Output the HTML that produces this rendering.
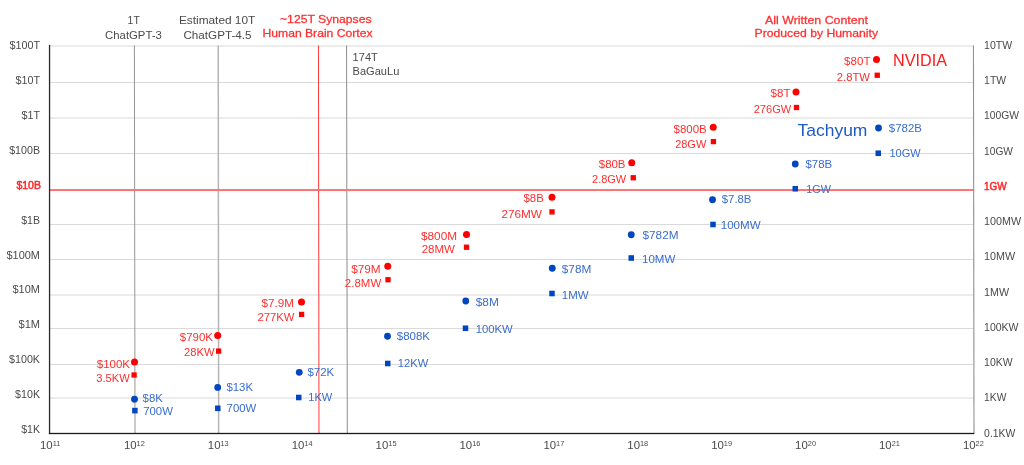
<!DOCTYPE html><html><head><meta charset="utf-8"><title>Chart</title><style>html,body{margin:0;padding:0;background:#fff}svg{display:block}text{font-family:"Liberation Sans",Arial,sans-serif}</style></head><body>
<svg width="1024" height="465" viewBox="0 0 1024 465">
<rect width="1024" height="465" fill="#fff"/>
<rect x="49.5" y="45.50" width="924.3" height="1" fill="#dadada"/>
<rect x="49.5" y="82.00" width="924.3" height="1" fill="#dadada"/>
<rect x="49.5" y="117.50" width="924.3" height="1" fill="#dadada"/>
<rect x="49.5" y="153.00" width="924.3" height="1" fill="#dadada"/>
<rect x="49.5" y="224.00" width="924.3" height="1" fill="#dadada"/>
<rect x="49.5" y="259.00" width="924.3" height="1" fill="#dadada"/>
<rect x="49.5" y="294.50" width="924.3" height="1" fill="#dadada"/>
<rect x="49.5" y="328.00" width="924.3" height="1" fill="#dadada"/>
<rect x="49.5" y="364.00" width="924.3" height="1" fill="#dadada"/>
<rect x="49.5" y="397.50" width="924.3" height="1" fill="#dadada"/>
<polygon points="133.90,45.6 134.90,45.6 135.50,433.2 134.50,433.2" fill="#969696"/>
<polygon points="217.48,45.6 218.98,45.6 219.39,433.2 217.89,433.2" fill="#b4b4b4"/>
<polygon points="346.08,45.6 347.08,45.6 347.79,433.2 346.79,433.2" fill="#8c8c8c"/>
<polygon points="317.96,45.6 318.96,45.6 319.47,433.2 318.47,433.2" fill="#ff3a3a"/>
<rect x="49.5" y="189.0" width="924.3" height="2" fill="#ff7474"/>
<polygon points="972.91,45.6 974.01,45.6 974.55,433.2 973.45,433.2" fill="#909090"/>
<rect x="48.9" y="44.9" width="1.3" height="389.2" fill="#2a2a2a"/>
<rect x="48.9" y="432.85" width="925.4" height="1.3" fill="#1a1a1a"/>
<text x="40.00" y="49.35" font-size="10.7" fill="#4a4a4a" text-anchor="end" textLength="30.6" lengthAdjust="spacingAndGlyphs">$100T</text>
<text x="40.00" y="84.22" font-size="10.7" fill="#4a4a4a" text-anchor="end" textLength="24.5" lengthAdjust="spacingAndGlyphs">$10T</text>
<text x="40.00" y="119.09" font-size="10.7" fill="#4a4a4a" text-anchor="end" textLength="18.5" lengthAdjust="spacingAndGlyphs">$1T</text>
<text x="40.00" y="153.96" font-size="10.7" fill="#4a4a4a" text-anchor="end" textLength="30.8" lengthAdjust="spacingAndGlyphs">$100B</text>
<text x="41.00" y="188.53" font-size="10.7" fill="#ff2626" text-anchor="end" textLength="24.6" lengthAdjust="spacingAndGlyphs" stroke="#ff2626" stroke-width="0.5">$10B</text>
<text x="40.00" y="223.70" font-size="10.7" fill="#4a4a4a" text-anchor="end" textLength="18.8" lengthAdjust="spacingAndGlyphs">$1B</text>
<text x="40.00" y="258.57" font-size="10.7" fill="#4a4a4a" text-anchor="end" textLength="33.5" lengthAdjust="spacingAndGlyphs">$100M</text>
<text x="40.00" y="293.44" font-size="10.7" fill="#4a4a4a" text-anchor="end" textLength="27.5" lengthAdjust="spacingAndGlyphs">$10M</text>
<text x="40.00" y="328.31" font-size="10.7" fill="#4a4a4a" text-anchor="end" textLength="21.5" lengthAdjust="spacingAndGlyphs">$1M</text>
<text x="40.00" y="363.18" font-size="10.7" fill="#4a4a4a" text-anchor="end" textLength="30.9" lengthAdjust="spacingAndGlyphs">$100K</text>
<text x="40.00" y="398.05" font-size="10.7" fill="#4a4a4a" text-anchor="end" textLength="24.9" lengthAdjust="spacingAndGlyphs">$10K</text>
<text x="40.00" y="432.92" font-size="10.7" fill="#4a4a4a" text-anchor="end" textLength="18.8" lengthAdjust="spacingAndGlyphs">$1K</text>
<text x="984.10" y="48.95" font-size="10.7" fill="#4a4a4a" text-anchor="start" textLength="28.0" lengthAdjust="spacingAndGlyphs">10TW</text>
<text x="984.10" y="84.20" font-size="10.7" fill="#4a4a4a" text-anchor="start" textLength="22.0" lengthAdjust="spacingAndGlyphs">1TW</text>
<text x="984.10" y="119.45" font-size="10.7" fill="#4a4a4a" text-anchor="start" textLength="35.0" lengthAdjust="spacingAndGlyphs">100GW</text>
<text x="984.10" y="154.70" font-size="10.7" fill="#4a4a4a" text-anchor="start" textLength="28.9" lengthAdjust="spacingAndGlyphs">10GW</text>
<text x="984.00" y="189.65" font-size="10.7" fill="#ff2626" text-anchor="start" textLength="22.8" lengthAdjust="spacingAndGlyphs" stroke="#ff2626" stroke-width="0.5">1GW</text>
<text x="984.10" y="225.20" font-size="10.7" fill="#4a4a4a" text-anchor="start" textLength="37.0" lengthAdjust="spacingAndGlyphs">100MW</text>
<text x="984.10" y="260.45" font-size="10.7" fill="#4a4a4a" text-anchor="start" textLength="31.0" lengthAdjust="spacingAndGlyphs">10MW</text>
<text x="984.10" y="295.70" font-size="10.7" fill="#4a4a4a" text-anchor="start" textLength="25.0" lengthAdjust="spacingAndGlyphs">1MW</text>
<text x="984.10" y="330.95" font-size="10.7" fill="#4a4a4a" text-anchor="start" textLength="34.4" lengthAdjust="spacingAndGlyphs">100KW</text>
<text x="984.10" y="366.20" font-size="10.7" fill="#4a4a4a" text-anchor="start" textLength="28.4" lengthAdjust="spacingAndGlyphs">10KW</text>
<text x="984.10" y="401.45" font-size="10.7" fill="#4a4a4a" text-anchor="start" textLength="22.3" lengthAdjust="spacingAndGlyphs">1KW</text>
<text x="984.10" y="436.70" font-size="10.7" fill="#4a4a4a" text-anchor="start" textLength="31.2" lengthAdjust="spacingAndGlyphs">0.1KW</text>
<text x="40.00" y="449.3" font-size="11.4" fill="#4a4a4a">10<tspan font-size="7.4" dy="-3.8">11</tspan></text>
<text x="123.90" y="449.3" font-size="11.4" fill="#4a4a4a">10<tspan font-size="7.4" dy="-3.8">12</tspan></text>
<text x="207.80" y="449.3" font-size="11.4" fill="#4a4a4a">10<tspan font-size="7.4" dy="-3.8">13</tspan></text>
<text x="291.70" y="449.3" font-size="11.4" fill="#4a4a4a">10<tspan font-size="7.4" dy="-3.8">14</tspan></text>
<text x="375.60" y="449.3" font-size="11.4" fill="#4a4a4a">10<tspan font-size="7.4" dy="-3.8">15</tspan></text>
<text x="459.50" y="449.3" font-size="11.4" fill="#4a4a4a">10<tspan font-size="7.4" dy="-3.8">16</tspan></text>
<text x="543.40" y="449.3" font-size="11.4" fill="#4a4a4a">10<tspan font-size="7.4" dy="-3.8">17</tspan></text>
<text x="627.30" y="449.3" font-size="11.4" fill="#4a4a4a">10<tspan font-size="7.4" dy="-3.8">18</tspan></text>
<text x="711.20" y="449.3" font-size="11.4" fill="#4a4a4a">10<tspan font-size="7.4" dy="-3.8">19</tspan></text>
<text x="795.10" y="449.3" font-size="11.4" fill="#4a4a4a">10<tspan font-size="7.4" dy="-3.8">20</tspan></text>
<text x="879.00" y="449.3" font-size="11.4" fill="#4a4a4a">10<tspan font-size="7.4" dy="-3.8">21</tspan></text>
<text x="962.90" y="449.3" font-size="11.4" fill="#4a4a4a">10<tspan font-size="7.4" dy="-3.8">22</tspan></text>
<text x="127.60" y="24.20" font-size="11.5" fill="#4a4a4a" text-anchor="start" textLength="12.2" lengthAdjust="spacingAndGlyphs">1T</text>
<text x="105.10" y="38.60" font-size="11.5" fill="#4a4a4a" text-anchor="start" textLength="56.7" lengthAdjust="spacingAndGlyphs">ChatGPT-3</text>
<text x="178.90" y="24.20" font-size="11.5" fill="#4a4a4a" text-anchor="start" textLength="76.4" lengthAdjust="spacingAndGlyphs">Estimated 10T</text>
<text x="183.40" y="38.60" font-size="11.5" fill="#4a4a4a" text-anchor="start" textLength="68.2" lengthAdjust="spacingAndGlyphs">ChatGPT-4.5</text>
<text x="280.00" y="23.30" font-size="11.5" fill="#ff3030" text-anchor="start" textLength="91.5" lengthAdjust="spacingAndGlyphs" stroke="#ff3030" stroke-width="0.28">~125T Synapses</text>
<text x="262.50" y="37.30" font-size="11.5" fill="#ff3030" text-anchor="start" textLength="110.0" lengthAdjust="spacingAndGlyphs" stroke="#ff3030" stroke-width="0.28">Human Brain Cortex</text>
<text x="352.60" y="60.70" font-size="11.5" fill="#4a4a4a" text-anchor="start" textLength="25.2" lengthAdjust="spacingAndGlyphs">174T</text>
<text x="352.60" y="74.90" font-size="11.5" fill="#4a4a4a" text-anchor="start" textLength="46.7" lengthAdjust="spacingAndGlyphs">BaGauLu</text>
<text x="765.00" y="23.60" font-size="11.5" fill="#ff3030" text-anchor="start" textLength="103.0" lengthAdjust="spacingAndGlyphs" stroke="#ff3030" stroke-width="0.28">All Written Content</text>
<text x="754.50" y="37.30" font-size="11.5" fill="#ff3030" text-anchor="start" textLength="123.5" lengthAdjust="spacingAndGlyphs" stroke="#ff3030" stroke-width="0.28">Produced by Humanity</text>
<text x="893.00" y="65.80" font-size="16.7" fill="#ff1a1a" text-anchor="start" textLength="54.0" lengthAdjust="spacingAndGlyphs">NVIDIA</text>
<text x="797.60" y="135.70" font-size="17" fill="#1f5ac4" text-anchor="start" textLength="69.8" lengthAdjust="spacingAndGlyphs">Tachyum</text>
<circle cx="134.5" cy="362" r="3.5" fill="#ff0000"/>
<text x="130.00" y="367.80" font-size="11.5" fill="#ff2e2e" text-anchor="end" textLength="33.2" lengthAdjust="spacingAndGlyphs">$100K</text>
<circle cx="217.7" cy="335.6" r="3.5" fill="#ff0000"/>
<text x="213.00" y="340.80" font-size="11.5" fill="#ff2e2e" text-anchor="end" textLength="33.2" lengthAdjust="spacingAndGlyphs">$790K</text>
<circle cx="301.5" cy="302" r="3.5" fill="#ff0000"/>
<text x="294.00" y="307.00" font-size="11.5" fill="#ff2e2e" text-anchor="end" textLength="32.6" lengthAdjust="spacingAndGlyphs">$7.9M</text>
<circle cx="387.75" cy="266.25" r="3.5" fill="#ff0000"/>
<text x="380.75" y="272.50" font-size="11.5" fill="#ff2e2e" text-anchor="end" textLength="29.6" lengthAdjust="spacingAndGlyphs">$79M</text>
<circle cx="466.5" cy="234.5" r="3.5" fill="#ff0000"/>
<text x="457.00" y="239.50" font-size="11.5" fill="#ff2e2e" text-anchor="end" textLength="36.0" lengthAdjust="spacingAndGlyphs">$800M</text>
<circle cx="552" cy="197.25" r="3.5" fill="#ff0000"/>
<text x="543.75" y="202.00" font-size="11.5" fill="#ff2e2e" text-anchor="end" textLength="20.2" lengthAdjust="spacingAndGlyphs">$8B</text>
<circle cx="631.75" cy="162.75" r="3.5" fill="#ff0000"/>
<text x="625.50" y="167.50" font-size="11.5" fill="#ff2e2e" text-anchor="end" textLength="26.7" lengthAdjust="spacingAndGlyphs">$80B</text>
<circle cx="713.25" cy="127.25" r="3.5" fill="#ff0000"/>
<text x="706.75" y="132.50" font-size="11.5" fill="#ff2e2e" text-anchor="end" textLength="33.2" lengthAdjust="spacingAndGlyphs">$800B</text>
<circle cx="796" cy="92" r="3.5" fill="#ff0000"/>
<text x="790.50" y="97.00" font-size="11.5" fill="#ff2e2e" text-anchor="end" textLength="19.9" lengthAdjust="spacingAndGlyphs">$8T</text>
<circle cx="876.5" cy="59.5" r="3.5" fill="#ff0000"/>
<text x="870.50" y="64.50" font-size="11.5" fill="#ff2e2e" text-anchor="end" textLength="26.4" lengthAdjust="spacingAndGlyphs">$80T</text>
<rect x="131.45" y="372.35" width="5.3" height="5.3" fill="#ff0000"/>
<text x="129.80" y="381.70" font-size="11.5" fill="#ff2e2e" text-anchor="end" textLength="33.5" lengthAdjust="spacingAndGlyphs">3.5KW</text>
<rect x="215.95" y="348.45" width="5.3" height="5.3" fill="#ff0000"/>
<text x="214.50" y="356.30" font-size="11.5" fill="#ff2e2e" text-anchor="end" textLength="30.5" lengthAdjust="spacingAndGlyphs">28KW</text>
<rect x="298.95" y="311.75" width="5.3" height="5.3" fill="#ff0000"/>
<text x="294.40" y="320.80" font-size="11.5" fill="#ff2e2e" text-anchor="end" textLength="37.0" lengthAdjust="spacingAndGlyphs">277KW</text>
<rect x="385.35" y="277.10" width="5.3" height="5.3" fill="#ff0000"/>
<text x="381.25" y="287.00" font-size="11.5" fill="#ff2e2e" text-anchor="end" textLength="36.4" lengthAdjust="spacingAndGlyphs">2.8MW</text>
<rect x="463.85" y="244.60" width="5.3" height="5.3" fill="#ff0000"/>
<text x="455.00" y="253.25" font-size="11.5" fill="#ff2e2e" text-anchor="end" textLength="33.3" lengthAdjust="spacingAndGlyphs">28MW</text>
<rect x="549.35" y="209.25" width="5.3" height="5.3" fill="#ff0000"/>
<text x="542.00" y="217.70" font-size="11.5" fill="#ff2e2e" text-anchor="end" textLength="40.6" lengthAdjust="spacingAndGlyphs">276MW</text>
<rect x="630.60" y="175.10" width="5.3" height="5.3" fill="#ff0000"/>
<text x="626.25" y="183.25" font-size="11.5" fill="#ff2e2e" text-anchor="end" textLength="34.2" lengthAdjust="spacingAndGlyphs">2.8GW</text>
<rect x="710.75" y="138.95" width="5.3" height="5.3" fill="#ff0000"/>
<text x="706.25" y="148.40" font-size="11.5" fill="#ff2e2e" text-anchor="end" textLength="31.1" lengthAdjust="spacingAndGlyphs">28GW</text>
<rect x="793.85" y="104.85" width="5.3" height="5.3" fill="#ff0000"/>
<text x="791.25" y="112.50" font-size="11.5" fill="#ff2e2e" text-anchor="end" textLength="37.6" lengthAdjust="spacingAndGlyphs">276GW</text>
<rect x="874.60" y="72.60" width="5.3" height="5.3" fill="#ff0000"/>
<text x="870.00" y="80.75" font-size="11.5" fill="#ff2e2e" text-anchor="end" textLength="33.2" lengthAdjust="spacingAndGlyphs">2.8TW</text>
<circle cx="134.5" cy="399.2" r="3.4" fill="#0046be"/>
<text x="142.60" y="401.90" font-size="11.5" fill="#3a6dcc" text-anchor="start" textLength="20.2" lengthAdjust="spacingAndGlyphs">$8K</text>
<circle cx="217.7" cy="387.4" r="3.4" fill="#0046be"/>
<text x="226.40" y="390.70" font-size="11.5" fill="#3a6dcc" text-anchor="start" textLength="26.7" lengthAdjust="spacingAndGlyphs">$13K</text>
<circle cx="299.25" cy="372.3" r="3.4" fill="#0046be"/>
<text x="307.50" y="375.80" font-size="11.5" fill="#3a6dcc" text-anchor="start" textLength="26.7" lengthAdjust="spacingAndGlyphs">$72K</text>
<circle cx="387.5" cy="336.25" r="3.4" fill="#0046be"/>
<text x="396.75" y="340.00" font-size="11.5" fill="#3a6dcc" text-anchor="start" textLength="33.2" lengthAdjust="spacingAndGlyphs">$808K</text>
<circle cx="465.75" cy="301" r="3.4" fill="#0046be"/>
<text x="475.75" y="305.50" font-size="11.5" fill="#3a6dcc" text-anchor="start" textLength="23.1" lengthAdjust="spacingAndGlyphs">$8M</text>
<circle cx="552.25" cy="268.25" r="3.4" fill="#0046be"/>
<text x="561.75" y="272.50" font-size="11.5" fill="#3a6dcc" text-anchor="start" textLength="29.6" lengthAdjust="spacingAndGlyphs">$78M</text>
<circle cx="631.25" cy="234.75" r="3.4" fill="#0046be"/>
<text x="642.50" y="238.75" font-size="11.5" fill="#3a6dcc" text-anchor="start" textLength="36.0" lengthAdjust="spacingAndGlyphs">$782M</text>
<circle cx="712.5" cy="199.75" r="3.4" fill="#0046be"/>
<text x="721.75" y="203.25" font-size="11.5" fill="#3a6dcc" text-anchor="start" textLength="29.7" lengthAdjust="spacingAndGlyphs">$7.8B</text>
<circle cx="795.25" cy="164" r="3.4" fill="#0046be"/>
<text x="805.50" y="168.25" font-size="11.5" fill="#3a6dcc" text-anchor="start" textLength="26.7" lengthAdjust="spacingAndGlyphs">$78B</text>
<circle cx="878.5" cy="128" r="3.4" fill="#0046be"/>
<text x="888.75" y="132.00" font-size="11.5" fill="#3a6dcc" text-anchor="start" textLength="33.2" lengthAdjust="spacingAndGlyphs">$782B</text>
<rect x="132.15" y="407.80" width="5.5" height="5.6" fill="#0046be"/>
<text x="143.20" y="415.00" font-size="11.5" fill="#3a6dcc" text-anchor="start" textLength="29.7" lengthAdjust="spacingAndGlyphs">700W</text>
<rect x="215.05" y="405.50" width="5.5" height="5.6" fill="#0046be"/>
<text x="226.60" y="411.50" font-size="11.5" fill="#3a6dcc" text-anchor="start" textLength="29.7" lengthAdjust="spacingAndGlyphs">700W</text>
<rect x="296.00" y="394.70" width="5.5" height="5.6" fill="#0046be"/>
<text x="308.25" y="400.75" font-size="11.5" fill="#3a6dcc" text-anchor="start" textLength="24.0" lengthAdjust="spacingAndGlyphs">1KW</text>
<rect x="385.00" y="360.70" width="5.5" height="5.6" fill="#0046be"/>
<text x="397.75" y="367.00" font-size="11.5" fill="#3a6dcc" text-anchor="start" textLength="30.5" lengthAdjust="spacingAndGlyphs">12KW</text>
<rect x="462.75" y="325.45" width="5.5" height="5.6" fill="#0046be"/>
<text x="475.75" y="332.50" font-size="11.5" fill="#3a6dcc" text-anchor="start" textLength="37.0" lengthAdjust="spacingAndGlyphs">100KW</text>
<rect x="549.25" y="290.70" width="5.5" height="5.6" fill="#0046be"/>
<text x="561.75" y="298.75" font-size="11.5" fill="#3a6dcc" text-anchor="start" textLength="26.8" lengthAdjust="spacingAndGlyphs">1MW</text>
<rect x="628.50" y="255.20" width="5.5" height="5.6" fill="#0046be"/>
<text x="642.00" y="262.50" font-size="11.5" fill="#3a6dcc" text-anchor="start" textLength="33.3" lengthAdjust="spacingAndGlyphs">10MW</text>
<rect x="710.25" y="221.70" width="5.5" height="5.6" fill="#0046be"/>
<text x="720.75" y="228.60" font-size="11.5" fill="#3a6dcc" text-anchor="start" textLength="39.8" lengthAdjust="spacingAndGlyphs">100MW</text>
<rect x="792.50" y="185.95" width="5.5" height="5.6" fill="#0046be"/>
<text x="806.25" y="192.50" font-size="11.5" fill="#3a6dcc" text-anchor="start" textLength="24.6" lengthAdjust="spacingAndGlyphs">1GW</text>
<rect x="875.50" y="150.45" width="5.5" height="5.6" fill="#0046be"/>
<text x="889.50" y="157.00" font-size="11.5" fill="#3a6dcc" text-anchor="start" textLength="31.1" lengthAdjust="spacingAndGlyphs">10GW</text>
</svg></body></html>
